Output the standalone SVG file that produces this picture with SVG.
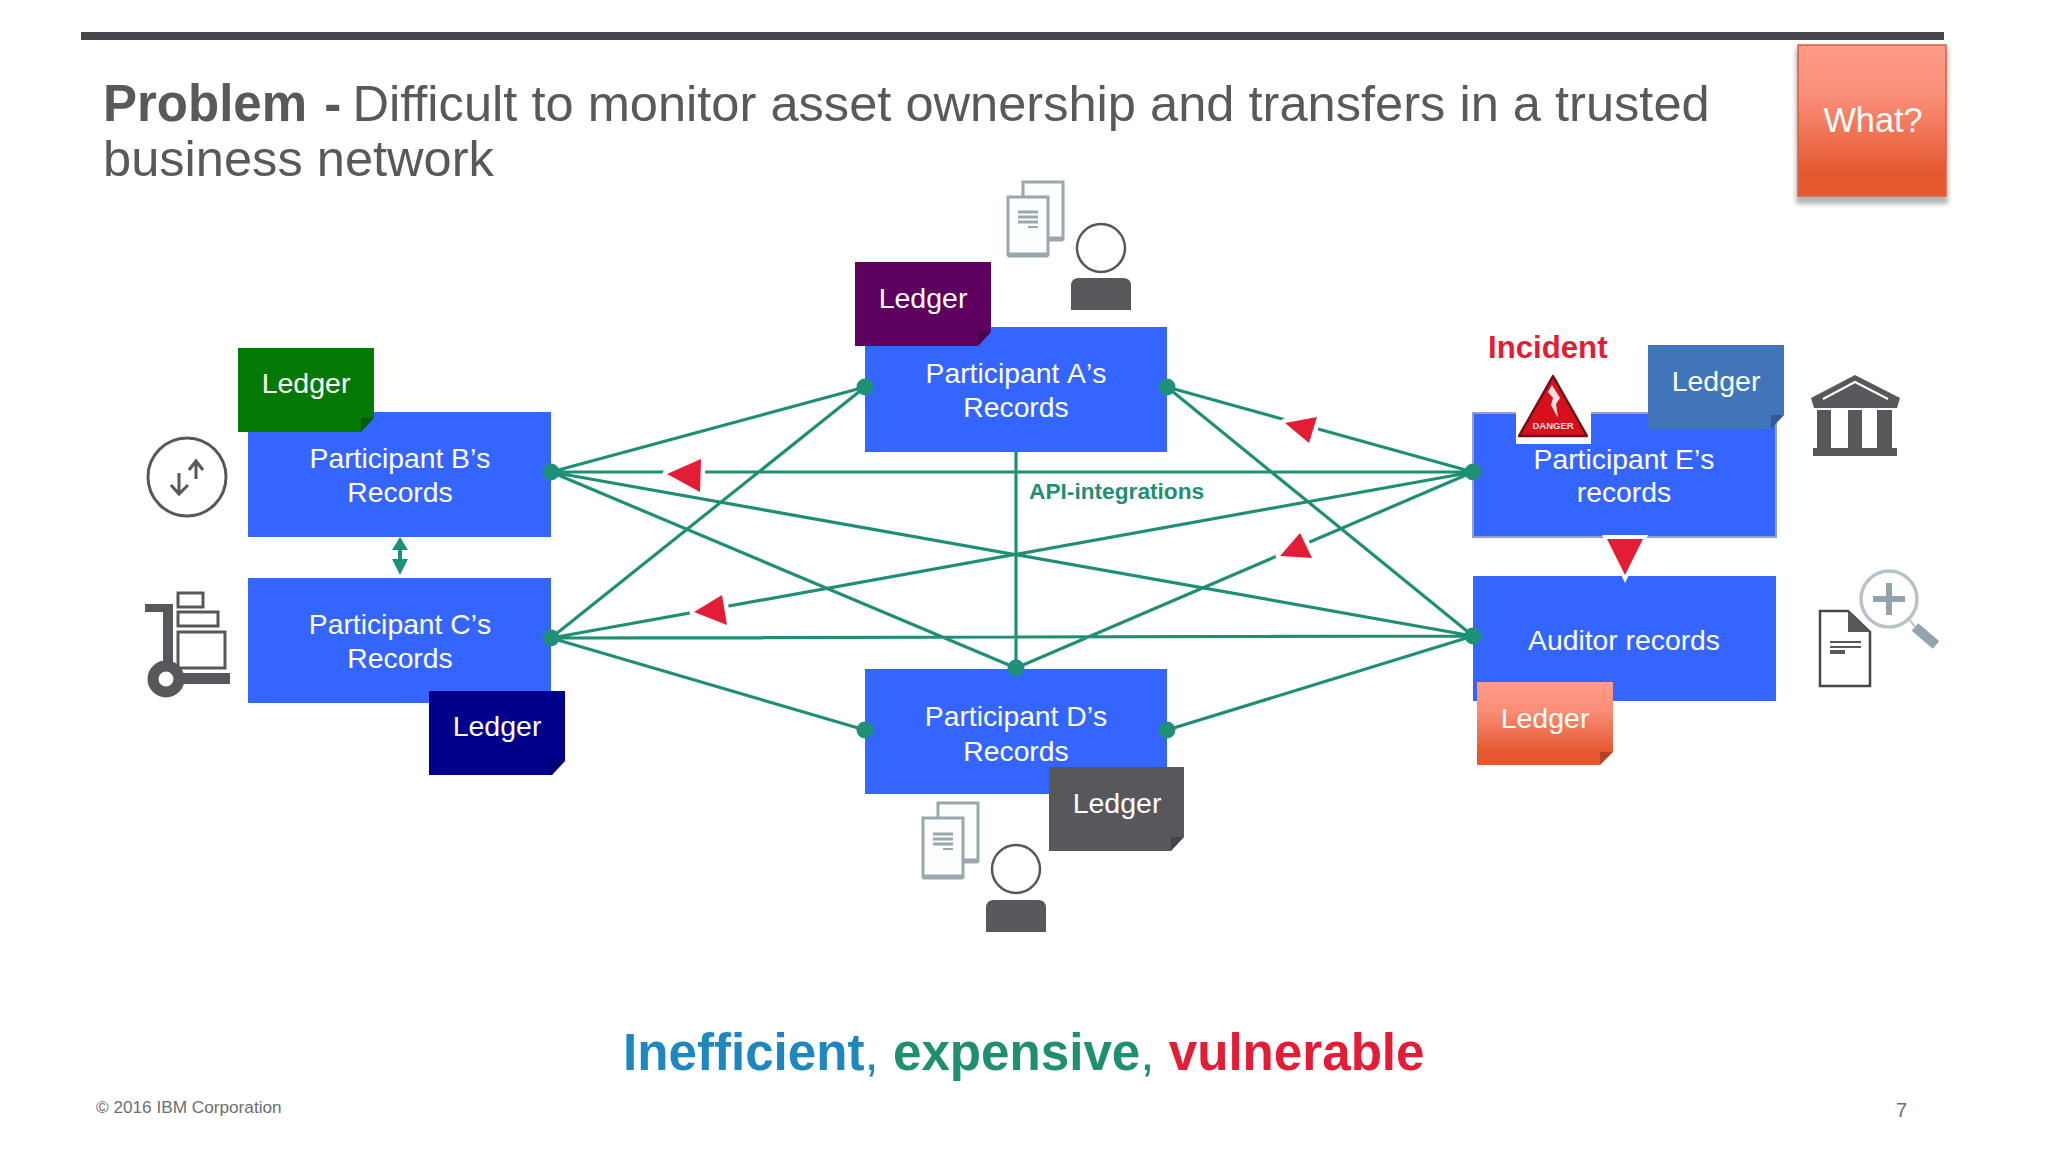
<svg xmlns="http://www.w3.org/2000/svg" width="2048" height="1152" viewBox="0 0 2048 1152">
<style>
text{font-family:"Liberation Sans",Arial,sans-serif}
.rec{fill:#3565ff}
.lbl{fill:#fff;font-size:28.3px;text-anchor:middle;font-kerning:none}
.led{font-size:28.5px;fill:#fff;text-anchor:middle}
.fold{fill:#000;fill-opacity:.22}
.cn{stroke:#1f8f74;stroke-width:3.2;fill:none}
.dot{fill:#1f9078}
.red{fill:#e41d37;stroke:none}
.halo{fill:#fff;stroke:#fff;stroke-width:9;stroke-linejoin:round}
.ic{fill:none;stroke:#58585c;stroke-width:3}
.icf{fill:#58585c}
.doc{fill:#fcfdfd;stroke:#9aa8ae;stroke-width:3}
.docb{stroke:#9aa8ae;stroke-width:5}
.docl{stroke:#9aa8ae;stroke-width:3}
</style>
<defs>
<linearGradient id="or" x1="0" y1="0" x2="0" y2="1"><stop offset="0" stop-color="#ff9d8a"/><stop offset=".35" stop-color="#f98d76"/><stop offset=".85" stop-color="#e5582f"/><stop offset="1" stop-color="#e5582f"/></linearGradient>
<filter id="sh" x="-10%" y="-10%" width="120%" height="120%"><feGaussianBlur stdDeviation="2.5"/></filter>
</defs>
<rect width="2048" height="1152" fill="#fff"/>
<rect id="topbar" x="81" y="32" width="1863" height="8" fill="#46464c"/>
<g id="title" font-size="50.6" fill="#58595b">
<text x="103" y="121"><tspan font-weight="bold" font-size="51">Problem</tspan><tspan font-weight="bold" font-size="51" dx="3"> - </tspan><tspan dx="-3">Difficult to monitor asset ownership and transfers in a trusted</tspan></text>
<text x="103" y="176">business network</text>
</g>
<g id="what">
<rect x="1796" y="48" width="152" height="156" fill="#777" fill-opacity=".55" filter="url(#sh)"/>
<rect x="1798" y="45" width="148" height="151" fill="url(#or)" stroke="#d8603f" stroke-width="1.5"/>
<text x="1873" y="132" font-size="34.3" fill="#fff" text-anchor="middle">What?</text>
</g>
<g id="connectors">
<path class="cn" d="M551 472L865 387M551 472L1473 472M551 472L1473 636M551 472L1016 668M551 638L865 387M551 638L1473 636M551 638L1473 472M551 638L865 730M1167 387L1473 472M1167 387L1473 636M1016 452L1016 668M1016 668L1473 472M1167 730L1473 636"/>
<polygon class="halo" points="667,474 701,459 700,492"/>
<polygon class="red" points="667,474 701,459 700,492"/>
<polygon class="halo" points="694,612 722,595 727,625"/>
<polygon class="red" points="694,612 722,595 727,625"/>
<polygon class="halo" points="1300,533 1280,556 1312,558"/>
<polygon class="red" points="1300,533 1280,556 1312,558"/>
<polygon class="halo" points="1285,423 1317,417 1309,443"/>
<polygon class="red" points="1285,423 1317,417 1309,443"/>
<path fill="#1f9078" d="M400 537L408 550H402V559H408L400 575L392 559H398V550H392Z"/>
<text x="1029" y="499" font-size="22.7" font-weight="bold" fill="#1f8f74">API-integrations</text>
</g>
<g id="participant-a">
<rect class="rec" x="865" y="327" width="302" height="125"/>
<text class="lbl" x="1016" y="383">Participant A’s</text><text class="lbl" x="1016" y="417">Records</text>
</g>
<g id="participant-b">
<rect class="rec" x="248" y="412" width="303" height="125"/>
<text class="lbl" x="400" y="468">Participant B’s</text><text class="lbl" x="400" y="502">Records</text>
</g>
<g id="participant-c">
<rect class="rec" x="248" y="578" width="303" height="125"/>
<text class="lbl" x="400" y="634">Participant C’s</text><text class="lbl" x="400" y="668">Records</text>
</g>
<g id="participant-d">
<rect class="rec" x="865" y="669" width="302" height="125"/>
<text class="lbl" x="1016" y="726">Participant D’s</text><text class="lbl" x="1016" y="761">Records</text>
</g>
<g id="participant-e">
<rect class="rec" x="1473" y="413" width="303" height="124" stroke="#93a0c4" stroke-width="2"/>
<text class="lbl" x="1624" y="469">Participant E’s</text><text class="lbl" x="1624" y="502">records</text>
</g>
<g id="auditor">
<rect class="rec" x="1473" y="576" width="303" height="125"/>
<text class="lbl" x="1624" y="650">Auditor records</text>
</g>
<g id="dots">
<circle class="dot" cx="551" cy="472" r="8.5"/><circle class="dot" cx="551" cy="638" r="8.5"/>
<circle class="dot" cx="865" cy="387" r="8.5"/><circle class="dot" cx="1167" cy="387" r="8.5"/>
<circle class="dot" cx="1016" cy="668" r="8.5"/><circle class="dot" cx="865" cy="730" r="8.5"/>
<circle class="dot" cx="1167" cy="730" r="8.5"/><circle class="dot" cx="1473" cy="472" r="8.5"/>
<circle class="dot" cx="1473" cy="636" r="8.5"/>
</g>
<g id="incident-arrow">
<polygon points="1602,535 1648,535 1625,583" fill="#fff"/>
<polygon class="red" points="1607,539 1643,539 1625,575"/>
</g>
<g id="ledger-green">
<path fill="#047a04" d="M238 348H374V418L361 432H238Z"/><path class="fold" d="M374 418L361 432V418Z"/>
<text class="led" x="306" y="393">Ledger</text>
</g>
<g id="ledger-navy">
<path fill="#00008b" d="M429 691H565V761L552 775H429Z"/><path class="fold" d="M565 761L552 775V761Z"/>
<text class="led" x="497" y="736">Ledger</text>
</g>
<g id="ledger-purple">
<path fill="#5e005e" d="M855 262H991V332L978 346H855Z"/><path class="fold" d="M991 332L978 346V332Z"/>
<text class="led" x="923" y="308">Ledger</text>
</g>
<g id="ledger-grey">
<path fill="#58585c" d="M1049 767H1184V837L1171 851H1049Z"/><path class="fold" d="M1184 837L1171 851V837Z"/>
<text class="led" x="1117" y="813">Ledger</text>
</g>
<g id="ledger-blue">
<path fill="#4175ba" d="M1648 345H1784V415L1771 429H1648Z"/><path class="fold" d="M1784 415L1771 429V415Z"/>
<text class="led" x="1716" y="391">Ledger</text>
</g>
<g id="ledger-orange">
<path fill="url(#or)" d="M1477 682H1613V752L1600 765H1477Z"/><path class="fold" d="M1613 752L1600 765V752Z"/>
<text class="led" x="1545" y="728">Ledger</text>
</g>
<g id="incident">
<text x="1488" y="358" font-size="31.2" font-weight="bold" fill="#e41d37">Incident</text>
<rect x="1516" y="373" width="75" height="71" fill="#fff"/>
<path d="M1553 376L1587 436H1519Z" fill="#d8101c" stroke="#6d1019" stroke-width="2.5" stroke-linejoin="round"/>
<path d="M1552 385L1560 398L1556 404L1558 418L1551 405L1553 398L1548 392Z" fill="#f9dfe1"/>
<text x="1553" y="429" font-size="9.5" font-weight="bold" fill="#f9dfe1" text-anchor="middle">DANGER</text>
</g>
<g id="icon-transfer">
<circle class="ic" cx="187" cy="477" r="39"/>
<path class="ic" d="M196 462V479M189 470L196 461L203 470M179 473V493M171 485L179 494L188 485"/>
</g>
<g id="icon-cart">
<path class="icf" d="M145 604H173V663H163V612H145Z"/>
<rect class="ic" x="178" y="593" width="25" height="14" stroke-width="4"/>
<rect class="ic" x="178" y="612" width="40" height="14" stroke-width="4"/>
<rect class="ic" x="178" y="632" width="47" height="36" stroke-width="4"/>
<rect class="icf" x="183" y="673" width="47" height="11"/>
<circle cx="166" cy="679" r="13" fill="none" stroke="#58585c" stroke-width="11"/>
</g>
<g id="icon-user-a">
<rect class="doc" x="1023" y="182" width="40" height="57"/><path class="docb" d="M1048 239H1063"/>
<rect class="doc" x="1008" y="197" width="40" height="58"/><path class="docb" d="M1008 255H1048"/>
<path class="docl" d="M1018 212H1038M1018 217H1038M1018 222H1038"/><path d="M1028 227H1038" stroke="#9aa8ae" stroke-width="2"/>
<circle cx="1101" cy="248" r="24" fill="#fff" stroke="#58585c" stroke-width="2.5"/>
<path class="icf" d="M1071 310V286Q1071 278 1079 278H1123Q1131 278 1131 286V310Z"/>
</g>
<g id="icon-user-d">
<rect class="doc" x="938" y="803" width="40" height="58"/><path class="docb" d="M963 861H978"/>
<rect class="doc" x="923" y="818" width="40" height="59"/><path class="docb" d="M923 877H963"/>
<path class="docl" d="M933 834H953M933 839H953M933 844H953"/><path d="M943 849H953" stroke="#9aa8ae" stroke-width="2"/>
<circle cx="1016" cy="869" r="24" fill="#fff" stroke="#58585c" stroke-width="2.5"/>
<path class="icf" d="M986 932V908Q986 900 994 900H1038Q1046 900 1046 908V932Z"/>
</g>
<g id="icon-bank">
<path class="icf" d="M1855 375L1900 398L1897 408H1814L1811 398Z"/>
<path d="M1823 399L1855 382L1888 399" fill="none" stroke="#fff" stroke-width="2"/>
<rect class="icf" x="1817" y="410" width="14" height="39"/><rect class="icf" x="1848" y="410" width="14" height="39"/><rect class="icf" x="1877" y="410" width="15" height="39"/>
<rect class="icf" x="1813" y="448" width="84" height="8"/>
</g>
<g id="icon-audit">
<path d="M1820 611H1848L1870 632V686H1820Z" fill="#fff" stroke="#46464c" stroke-width="2.5"/>
<path class="icf" d="M1848 611L1870 632H1848Z"/>
<path d="M1830 642H1861M1830 647H1861" stroke="#58585c" stroke-width="2"/><rect class="icf" x="1830" y="650" width="15" height="4"/>
<circle cx="1889" cy="599" r="28" fill="#fff" stroke="#b9c3c7" stroke-width="3.5"/>
<path d="M1873 599H1905M1889 583V615" stroke="#93a3ab" stroke-width="6"/>
<path d="M1909 619L1915 627" stroke="#b9c3c7" stroke-width="2"/>
<path d="M1915 627L1936 645" stroke="#93a3ab" stroke-width="10"/>
</g>
<g id="tagline" font-size="51.15">
<text x="623" y="1070"><tspan font-weight="bold" fill="#1f87c0">Inefficient</tspan><tspan fill="#1f87c0">, </tspan><tspan font-weight="bold" fill="#1f8f74">expensive</tspan><tspan fill="#1f8f74">, </tspan><tspan font-weight="bold" fill="#e41d37">vulnerable</tspan></text>
</g>
<g id="footer" fill="#6d6e71">
<text x="96" y="1113" font-size="17.2">© 2016 IBM Corporation</text>
<text x="1896" y="1117" font-size="20">7</text>
</g>
</svg>
